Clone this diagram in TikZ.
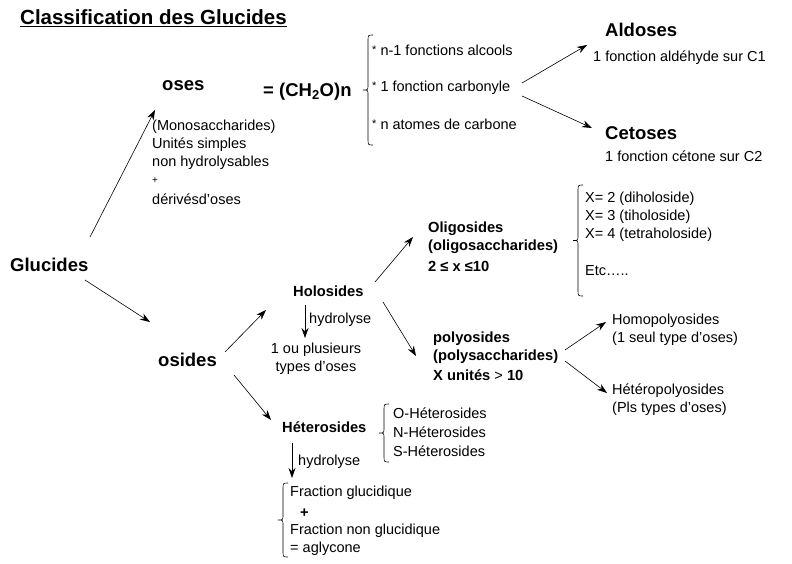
\documentclass[tikz,border=0pt]{standalone}
\usepackage{fontspec}
\setmainfont{Liberation Sans}
\usetikzlibrary{arrows.meta}
\newcommand\mybrace[3]{\draw[semithick] (#1+5,#2) .. controls (#1,#2) .. (#1,#2+6) -- (#1,{(#2+#3)/2-5}) .. controls (#1,{(#2+#3)/2}) .. (#1-5,{(#2+#3)/2}) .. controls (#1,{(#2+#3)/2}) .. (#1,{(#2+#3)/2+5}) -- (#1,#3-6) .. controls (#1,#3) .. (#1+5,#3);}
\newcommand\myast{\raisebox{2pt}{\fontsize{11}{11}\selectfont*}}
\begin{document}
\begin{tikzpicture}[x=1pt,y=-1pt,
  sm/.style={anchor=west,inner sep=0pt,font=\fontsize{14.5}{18}\selectfont,align=left},
  bd/.style={anchor=west,inner sep=0pt,font=\fontsize{14.7}{18}\selectfont\bfseries,align=left},
  big/.style={anchor=west,inner sep=0pt,font=\fontsize{18.5}{20}\selectfont\bfseries},
  arr/.style={-{Stealth[length=10pt,width=7pt]},semithick}]
\useasboundingbox (0,0) rectangle (792,564);
\node[anchor=west,inner sep=0pt,font=\fontsize{20.5}{22}\selectfont\bfseries] (title) at (20,18) {\underline{Classification des Glucides}};
\node[big] (oses) at (162,86) {oses};
\node[big] (formula) at (263,92) {= (CH\textsubscript{2}O)n};
\mybrace{368}{35}{145}
\node[sm] (p1) at (372,50) {\myast{} n-1 fonctions alcools};
\node[sm] (p2) at (372,88) {\myast{} 1 fonction carbonyle};
\node[sm] (p3) at (372,124) {\myast{} n atomes de carbone};
\node[big] (ald) at (605,30) {Aldoses};
\node[sm] (ald2) at (593,58) {1 fonction aldéhyde sur C1};
\node[big] (cet) at (605,133) {Cetoses};
\node[sm] (cet2) at (605,156) {1 fonction cétone sur C2};
\coordinate (c1) at (522,83); \coordinate (c2) at (522,96);
\coordinate (a1) at (587,45); \coordinate (a2) at (592,128);
\draw[arr] (c1) -- (a1); \draw[arr] (c2) -- (a2);
\node[sm] (mono) at (152,127) {(Monosaccharides)};
\node[sm] (m2) at (152,145) {Unités simples};
\node[sm] (m3) at (152,163) {non hydrolysables};
\node[sm,font=\fontsize{10}{10}\selectfont] (m4) at (152,181) {+};
\node[sm] (m5) at (152,199) {dérivésd'oses};
\node[big] (glu) at (10,265) {Glucides};
\coordinate (g1) at (90,237); \coordinate (g2) at (85,280);
\coordinate (o1) at (155,110); \coordinate (o2) at (150,322);
\draw[arr] (g1) -- (o1); \draw[arr] (g2) -- (o2);
\node[big] (osides) at (158,360) {osides};
\coordinate (s1) at (225,352); \coordinate (s2) at (234,375);
\coordinate (h1) at (266,310); \coordinate (h2) at (271,420);
\draw[arr] (s1) -- (h1); \draw[arr] (s2) -- (h2);
\node[bd] (holo) at (293,291) {Holosides};
\coordinate (hd1) at (305,305); \coordinate (hd2) at (305,338);
\draw[arr] (hd1) -- (hd2);
\node[sm] (hy1) at (309,320) {hydrolyse};
\node[sm,align=center,anchor=north] (types) at (316,343) {1 ou plusieurs\\types d'oses};
\coordinate (ho1) at (375,282); \coordinate (ho2) at (383,302);
\coordinate (ol) at (413,237); \coordinate (po) at (416,356);
\draw[arr] (ho1) -- (ol); \draw[arr] (ho2) -- (po);
\node[bd] (oligo) at (428,238) {Oligosides\\(oligosaccharides)};
\node[bd] (oligo3) at (428,266) {2 ≤ x ≤10};
\mybrace{578}{185}{296}
\node[sm] (x2) at (585,199) {X= 2 (diholoside)};
\node[sm] (x3) at (585,217) {X= 3 (tiholoside)};
\node[sm] (x4) at (585,235) {X= 4 (tetraholoside)};
\node[sm] (etc) at (585,271) {Etc…..};
\node[bd] (poly) at (433,348) {polyosides\\(polysaccharides)};
\node[bd] (poly3) at (433,375) {X unités {\normalfont\fontsize{14.5}{14}\selectfont>} 10};
\coordinate (p4) at (565,350); \coordinate (p5) at (565,361);
\coordinate (hm) at (606,322); \coordinate (ht) at (607,393);
\draw[arr] (p4) -- (hm); \draw[arr] (p5) -- (ht);
\node[sm] (homo) at (612,330) {Homopolyosides\\(1 seul type d'oses)};
\node[sm] (hetp) at (612,400) {Hétéropolyosides\\(Pls types d'oses)};
\node[bd] (hetero) at (282,427) {Héterosides};
\mybrace{384}{404}{462}
\node[sm] (oh) at (393,413) {O-Héterosides};
\node[sm] (nh) at (393,432) {N-Héterosides};
\node[sm] (sh) at (393,451) {S-Héterosides};
\coordinate (hd3) at (292,443); \coordinate (hd4) at (292,478);
\draw[arr] (hd3) -- (hd4);
\node[sm] (hy2) at (298,462) {hydrolyse};
\mybrace{283}{483}{557}
\node[sm] (fg) at (290,493) {Fraction glucidique};
\node[bd] (plus) at (300,513) {+};
\node[sm] (fng) at (290,531) {Fraction non glucidique};
\node[sm] (agl) at (290,549) {= aglycone};
\end{tikzpicture}
\end{document}
